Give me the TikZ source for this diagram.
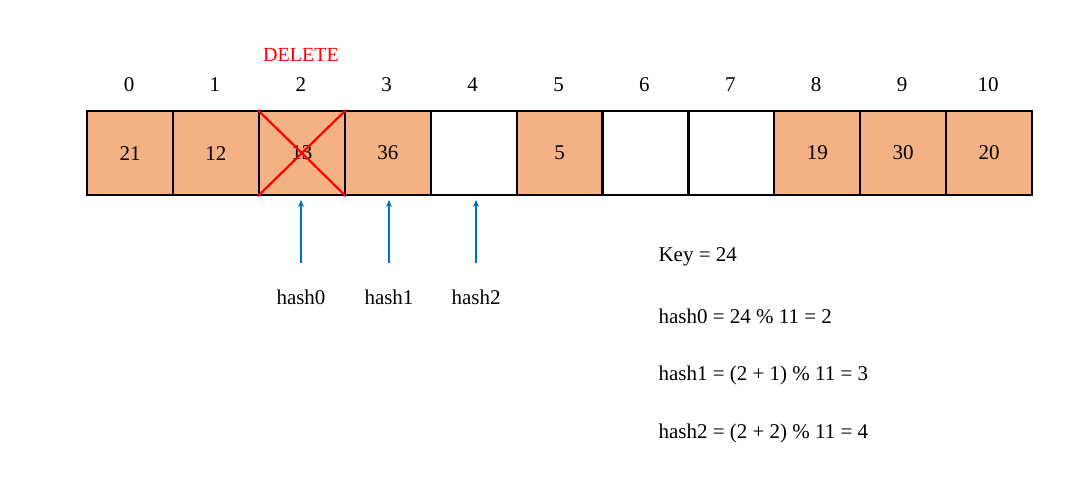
\documentclass[tikz,border=0pt]{standalone}
\usepackage{fontspec}
\setmainfont{Liberation Serif}
\begin{document}
\begin{tikzpicture}[x=1pt,y=-1pt,
  cell/.style={draw=black,line width=2.2pt,minimum width=85.9pt,minimum height=84pt,inner sep=0pt,anchor=north west,font=\fontsize{21}{24}\selectfont},
  full/.style={fill=orfill},
  lbl/.style={font=\fontsize{21}{24}\selectfont},
  eq/.style={font=\fontsize{21}{24}\selectfont,anchor=west},
  arr/.style={draw=arrblue,line width=2pt,-{Stealth[length=7pt,width=6pt]}}]
\usetikzlibrary{arrows.meta}
\definecolor{orfill}{HTML}{F4B183}
\definecolor{arrblue}{HTML}{0070C0}
\useasboundingbox (0,0) rectangle (1082,497);
\foreach \i/\v/\f in {0/21/1,1/12/1,2/13/1,3/36/1,4//0,5/5/1,6//0,7//0,8/19/1,9/30/1,10/20/1}{
  \ifnum\f=1
    \node[cell,full] (c\i) at ({86+\i*85.9},110) {\v};
  \else
    \node[cell] (c\i) at ({86+\i*85.9},110) {};
  \fi
  \node[lbl] (i\i) at ({86+\i*85.9+43},85) {\i};
}
\draw[red,line width=2.2pt] (c2.north west) -- (c2.south east) (c2.north east) -- (c2.south west);
\node[lbl,red,font=\fontsize{20}{24}\selectfont] (del) at (301,55) {DELETE};
\foreach \n/\x in {0/301,1/389,2/476}{
  \coordinate (s\n) at (\x,263);
  \coordinate (e\n) at (\x,200);
  \draw[arr] (s\n) -- (e\n);
  \node[lbl] (h\n) at (\x,297) {hash\n};
}
\node[eq] (k) at (655,257) {Key = 24};
\node[eq] (q0) at (655,316) {hash0 = 24 \% 11 = 2};
\node[eq] (q1) at (655,375) {hash1 = (2 + 1) \% 11 = 3};
\node[eq] (q2) at (655,433) {hash2 = (2 + 2) \% 11 = 4};
\end{tikzpicture}
\end{document}
